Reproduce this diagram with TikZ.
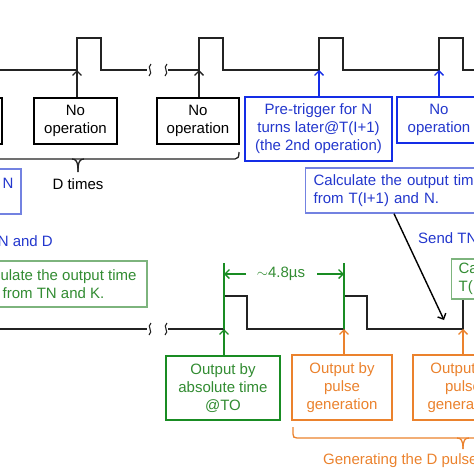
\documentclass[tikz,border=0pt]{standalone}
\usepackage{fontspec}
\setmainfont{Liberation Sans}
\usetikzlibrary{arrows.meta}
\definecolor{bl}{RGB}{20,45,230}
\definecolor{bll}{RGB}{115,130,225}
\definecolor{blt}{RGB}{35,55,205}
\definecolor{gr}{RGB}{25,140,35}
\definecolor{grl}{RGB}{125,180,125}
\definecolor{gt}{RGB}{50,140,50}
\definecolor{orng}{RGB}{235,130,45}
\definecolor{ln}{RGB}{35,35,35}
\begin{document}
\begin{tikzpicture}[x=1pt,y=-1pt,
  every node/.style={font=\fontsize{15}{18}\selectfont, inner sep=0pt},
  box/.style={draw, line width=1.3pt, align=center, fill=white},
  tl/.style={line width=1.2pt, draw=ln},
  arr/.style={line width=1.4pt, -{Straight Barb[length=4.5pt,width=9pt,line width=1.4pt]}},
  sq/.style={line width=1.1pt, draw=ln},
]
\useasboundingbox (0,0) rectangle (474,474);
\clip (0,0) rectangle (474,474);

% ---------- top timing line ----------
\coordinate (a1) at (77,70);
\coordinate (a2) at (199,70);
\coordinate (a3) at (319,70);
\coordinate (a4) at (439,70);
\draw[tl] (-2,70) -- (77,70) -- (77,38) -- (101,38) -- (101,70) -- (147,70);
\draw[tl] (168,70) -- (199,70) -- (199,38) -- (223,38) -- (223,70) -- (319,70) -- (319,38) -- (343,38) -- (343,70)
  -- (439,70) -- (439,38) -- (463,38) -- (463,70) -- (478,70);
\draw[sq] (149,76) .. controls (154,72) and (146,68) .. (151,64);
\draw[sq] (165,76) .. controls (170,72) and (162,68) .. (167,64);

% ---------- lower timing line ----------
\coordinate (b1) at (224,329);
\coordinate (b2) at (344,329);
\coordinate (b3) at (463,329);
\draw[tl] (-2,329) -- (147,329);
\draw[tl] (168,329) -- (224,329) -- (224,296) -- (247,296) -- (247,329) -- (344,329) -- (344,296) -- (367,296) -- (367,329)
  -- (463,329) -- (463,290);
\draw[sq] (149,335) .. controls (154,331) and (146,327) .. (151,323);
\draw[sq] (165,335) .. controls (170,331) and (162,327) .. (167,323);

% ---------- top boxes ----------
\node[box, minimum width=42pt, minimum height=46pt] (blk0) at (-19,121) {};
\node[box, minimum width=83pt, minimum height=46pt] (nop1) at (75.5,121) {No\\operation};
\node[box, minimum width=82pt, minimum height=46pt] (nop2) at (198,121) {No\\operation};
\node[box, draw=bl, text=blt, minimum width=147pt, minimum height=64pt] (pre) at (318.5,129)
  {Pre-trigger for N\\turns later@T(I+1)\\(the 2nd operation)};
\node[box, draw=bl, text=blt, minimum width=84pt, minimum height=46pt] (nop3) at (439,120) {No\\operation};

\draw[arr, draw=ln] (nop1.north -| a1) -- (a1);
\draw[arr, draw=ln] (nop2.north -| a2) -- (a2);
\draw[arr, draw=bl] (pre.north -| a3) -- (a3);
\draw[arr, draw=bl] (nop3.north -| a4) -- (a4);

% black brace
\draw[line width=1.3pt, draw=ln] (-2,159) -- (235,159) .. controls (238,159) and (239,157) .. (239,152);
\draw[line width=1.3pt, draw=ln] (72,159) .. controls (76,159) and (78,161) .. (78,172);
\draw[line width=1.3pt, draw=ln] (84,159) .. controls (80,159) and (78,161) .. (78,172);
\node (dtimes) at (78,184) {D times};

% ---------- middle ----------
\node[box, draw=bll, minimum width=120pt, minimum height=45pt] (blN) at (-39,191.5) {};
\node[text=blt] (tN) at (8,183) {N};
\node[text=blt, anchor=east] (nandd) at (53,241) {N and D};

\node[box, draw=bll, text=blt, text width=190pt, align=left, inner xsep=8pt, minimum height=45pt, anchor=west] (calcB)
  at (305,190.5) {Calculate the output time\\from T(I+1) and N.};
\node[text=blt, anchor=west] (send) at (418,238) {Send TN and D};

\node[box, draw=grl, text=gt, minimum width=187pt, minimum height=46pt] (calcG) at (53.5,284)
  {Calculate the output time\\from TN and K.};

\node[box, draw=grl, text=gt, text width=190pt, align=left, inner xsep=7pt, minimum height=40pt, anchor=west] (calcG2)
  at (451,279) {Calculate the output time\\T(I+1) and K.};

\coordinate (dtip) at (444,320);
\draw[arr, draw=black] ([xshift=89pt]calcB.south west) -- (dtip);

% ---------- dimension ----------
\draw[line width=1.3pt, draw=gr] (224,263) -- (b1);
\draw[line width=1.3pt, draw=gr] (344,263) -- (b2);
\node[text=gt] (dim) at (281,274) {$\sim$4.8µs};
\coordinate (d1) at (224,274);
\coordinate (d2) at (344,274);
\draw[arr, draw=gr] (246,274) -- (d1);
\draw[arr, draw=gr] (317,274) -- (d2);

% ---------- bottom boxes ----------
\node[box, draw=gr, text=gt, minimum width=114pt, minimum height=64pt] (abs) at (223,388)
  {Output by\\absolute time\\@TO};
\node[box, draw=orng, text=orng, minimum width=100pt, minimum height=65pt] (pg1) at (342,387.5)
  {Output by\\pulse\\generation};
\node[box, draw=orng, text=orng, minimum width=100pt, minimum height=65pt] (pg2) at (463,387.5)
  {Output by\\pulse\\generation};

\draw[arr, draw=gr] (abs.north -| b1) -- (b1);
\draw[arr, draw=orng] (pg1.north -| b2) -- (b2);
\draw[arr, draw=orng] (pg2.north -| b3) -- (b3);

% orange brace
\draw[line width=1.3pt, draw=orng] (293,427) -- (293,434) .. controls (293,437) and (294,438) .. (297,438) -- (478,438);
\draw[line width=1.3pt, draw=orng] (457,438) .. controls (461,438) and (463,440) .. (463,449);
\draw[line width=1.3pt, draw=orng] (469,438) .. controls (465,438) and (463,440) .. (463,449);
\node[text=orng, anchor=west] (gen) at (323,461) {Generating the D pulses};
\end{tikzpicture}
\end{document}
